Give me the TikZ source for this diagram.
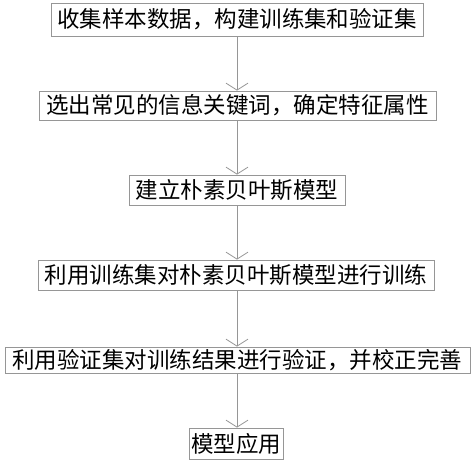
\documentclass[tikz,border=0pt]{standalone}
\usepackage{fontspec}
\newfontfamily\cjk{Noto Sans CJK SC}
\usetikzlibrary{arrows.meta}
\definecolor{edge}{RGB}{150,150,150}
\tikzset{
  stepbox/.style={draw=edge, line width=0.8pt, inner sep=0pt, font=\cjk\fontsize{22.5pt}{25pt}\selectfont, text=black},
  flow/.style={draw=edge, line width=0.8pt, -{Straight Barb[length=7pt,width=22pt,line width=0.8pt]}}
}
\begin{document}
\begin{tikzpicture}[x=1pt,y=-1pt]
\useasboundingbox (0,0) rectangle (474,464);
\node[stepbox, minimum width=372pt, minimum height=33pt] (b1) at (237,19.5) {收集样本数据，构建训练集和验证集};
\node[stepbox, minimum width=397pt, minimum height=29pt] (b2) at (237.5,105.5) {选出常见的信息关键词，确定特征属性};
\node[stepbox, minimum width=216pt, minimum height=30pt] (b3) at (237,190) {建立朴素贝叶斯模型};
\node[stepbox, minimum width=396pt, minimum height=30pt] (b4) at (236,275) {利用训练集对朴素贝叶斯模型进行训练};
\node[stepbox, minimum width=465pt, minimum height=26pt] (b5) at (237.5,360) {利用验证集对训练结果进行验证，并校正完善};
\node[stepbox, minimum width=94pt, minimum height=31pt] (b6) at (236,443.5) {模型应用};
\draw[flow] (b1.south -| 237,0) -- (b2.north -| 237,0);
\draw[flow] (b2.south -| 237,0) -- (b3.north -| 237,0);
\draw[flow] (b3.south -| 237,0) -- (b4.north -| 237,0);
\draw[flow] (b4.south -| 237,0) -- (b5.north -| 237,0);
\draw[flow] (b5.south -| 237,0) -- (b6.north -| 237,0);
\end{tikzpicture}
\end{document}
